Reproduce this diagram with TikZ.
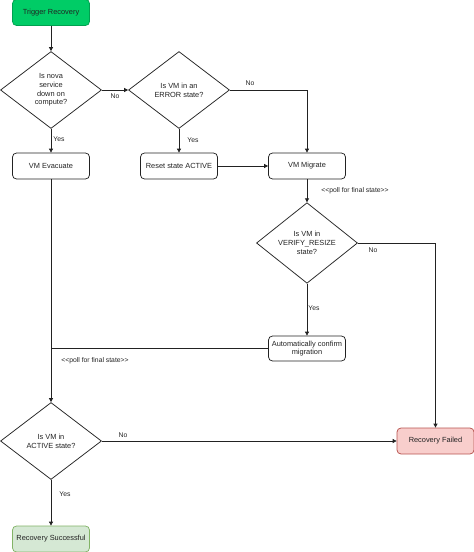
\documentclass[tikz,border=0pt]{standalone}
\usepackage{fontspec}
\setmainfont{Liberation Sans}
\newfontfamily\plainf{Liberation Sans}
\usetikzlibrary{shapes.geometric,arrows.meta}
\definecolor{ln}{HTML}{222222}
\definecolor{txt}{HTML}{222222}
\definecolor{trigfill}{HTML}{00CC66}
\definecolor{trigdraw}{HTML}{00A050}
\definecolor{okfill}{HTML}{D5E8D4}
\definecolor{okdraw}{HTML}{82B366}
\definecolor{badfill}{HTML}{F8CECC}
\definecolor{baddraw}{HTML}{B85450}
\tikzset{
  box/.style={draw=ln, rounded corners=4pt, minimum width=77pt, minimum height=26pt, inner sep=1pt, align=center, font=\fontsize{7.4}{8.8}\selectfont, text=txt, line width=0.75pt},
  dec/.style={draw=ln, diamond, minimum width=101pt, minimum height=77pt, inner sep=0pt, align=center, font=\fontsize{7.4}{8.8}\selectfont, text=txt, line width=0.75pt},
  conn/.style={draw=ln, line width=0.75pt, -{Triangle[length=4pt,width=4pt]}},
  plain/.style={draw=ln, line width=0.75pt},
  lbl/.style={font=\plainf\fontsize{6.8}{8}\selectfont, text=txt, inner sep=0pt}
}
\begin{document}
\begin{tikzpicture}[x=1pt,y=-1pt]
\useasboundingbox (0,0) rectangle (474,552);
\node[box, fill=trigfill, draw=trigdraw] (trig) at (51,12.5) {Trigger Recovery};
\node[dec] (d1) at (51,90) {Is nova\\service\\down on\\compute?};
\node[dec] (d2) at (179,90) {Is VM in an\\ERROR state?};
\node[box] (evac) at (51,166) {VM Evacuate};
\node[box] (reset) at (179,166) {Reset state ACTIVE};
\node[box] (mig) at (307,166) {VM Migrate};
\node[dec] (d3) at (307,243) {Is VM in\\VERIFY\_RESIZE\\state?};
\node[box, minimum height=25pt] (auto) at (307,348.5) {Automatically confirm\\migration};
\node[dec] (d4) at (51,441) {Is VM in\\ACTIVE state?};
\node[box, fill=badfill, draw=baddraw] (fail) at (435.5,441) {Recovery Failed};
\node[box, fill=okfill, draw=okdraw] (succ) at (51,539) {Recovery Successful};
\coordinate (junc) at (51,348.5);

\draw[conn] (trig.south) -- (d1.north);
\draw[conn] (d1.east) -- (d2.west);
\node[lbl] (l1) at (115,96) {No};
\draw[conn] (d1.south) -- (evac.north);
\node[lbl] (l2) at (59,139) {Yes};
\draw[conn] (d2.south) -- (reset.north);
\node[lbl] (l3) at (193,140) {Yes};
\draw[conn] (d2.east) -| (mig.north);
\node[lbl] (l4) at (250,83) {No};
\draw[conn] (reset.east) -- (mig.west);
\draw[conn] (mig.south) -- (d3.north);
\node[lbl] (l5) at (355,191) {<<poll for final state>>};
\draw[conn] (d3.east) -| (fail.north);
\node[lbl] (l6) at (373,250) {No};
\draw[conn] (d3.south) -- (auto.north);
\node[lbl] (l7) at (314,308) {Yes};
\draw[conn] (evac.south) -- (d4.north);
\draw[plain] (auto.west) -- (junc);
\node[lbl] (l8) at (95,361) {<<poll for final state>>};
\draw[conn] (d4.east) -- (fail.west);
\node[lbl] (l9) at (123,435) {No};
\draw[conn] (d4.south) -- (succ.north);
\node[lbl] (l10) at (65,494) {Yes};
\end{tikzpicture}
\end{document}
